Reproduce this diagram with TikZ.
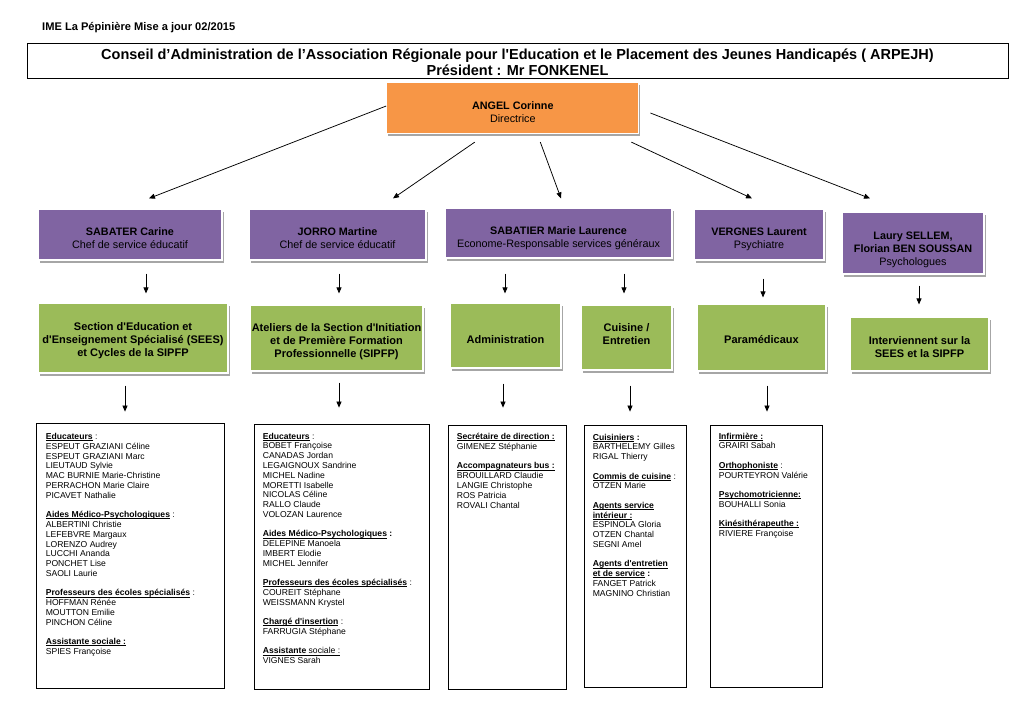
\documentclass[tikz,border=0pt]{standalone}
\usepackage{fontspec}
\setmainfont{Liberation Sans}
\usetikzlibrary{shadows,arrows.meta,calc}
\definecolor{orgfill}{HTML}{F79646}
\definecolor{purfill}{HTML}{8064A2}
\definecolor{grnfill}{HTML}{9BBB59}
\newsavebox\myulbox
\newcommand\myuln[1]{\sbox\myulbox{#1}\rlap{\rule[-1.3pt]{\wd\myulbox}{0.55pt}}\usebox\myulbox}
\newcommand\hd[1]{\myuln{\textbf{#1}}}
\newcommand\grp{\\[9.6pt]}
\newcommand\sq{\textquotesingle}
% lowers the ink of a centred block by #1 without changing the box size
\newcommand\sdn[2]{\raisebox{-#1}[\height][\depth]{\begin{tabular}{@{}c@{}}#2\end{tabular}}}
\tikzset{
  smart/.style={draw=white, line width=1.2pt, inner sep=2pt, align=center,
    general shadow={fill=black!35, shadow xshift=1.5pt, shadow yshift=-2.5pt}},
  obox/.style={smart, fill=orgfill, font={\fontsize{10.8}{13}\selectfont}},
  pbox/.style={smart, fill=purfill, font={\fontsize{10.8}{13}\selectfont}},
  gbox/.style={smart, fill=grnfill, font={\fontsize{11}{13}\selectfont\bfseries}},
  lbox/.style={draw=black, line width=0.8pt, fill=white, inner sep=0pt,
    general shadow={fill=black!45, shadow xshift=1.2pt, shadow yshift=-1.2pt}},
  ltext/.style={anchor=north west, inner sep=0pt, align=left, font={\fontsize{8.6}{9.8}\selectfont}},
  arr/.style={line width=0.75pt, -{Triangle[length=6pt,width=5pt]}},
}
\begin{document}
\begin{tikzpicture}[x=1pt,y=-1pt]
\useasboundingbox (0,0) rectangle (1024,724);
\fill[white] (0,0) rectangle (1024,724);

\node[anchor=base west, inner sep=0pt, font={\fontsize{11.1}{12}\selectfont\bfseries}] (hdr) at (42,30) {IME La Pépinière Mise a jour 02/2015};

\node[draw=black, line width=0.8pt, minimum width=981pt, minimum height=35pt, inner sep=0pt,
  font={\fontsize{14.5}{15.3}\selectfont\bfseries}] (title) at (517.5,60.5)
  {\sdn{4pt}{Conseil d’Administration de l’Association Régionale pour l\sq Education et le Placement des Jeunes Handicapés ( ARPEJH)\\Président : Mr FONKENEL}};

\node[obox, minimum width=252pt, minimum height=51pt] (angel) at (512.8,108)
  {\sdn{5.7pt}{\textbf{ANGEL Corinne}\\Directrice}};

\node[pbox, minimum width=184pt, minimum height=51pt] (sab1) at (130,234.5) {\sdn{5.3pt}{\textbf{SABATER Carine}\\Chef de service éducatif}};
\node[pbox, minimum width=177pt, minimum height=51pt] (jorro) at (337.5,234.5) {\sdn{5.3pt}{\textbf{JORRO Martine}\\Chef de service éducatif}};
\node[pbox, minimum width=227pt, minimum height=50pt] (sabm) at (558.5,233) {\sdn{5.8pt}{\textbf{SABATIER Marie Laurence}\\Econome-Responsable services généraux}};
\node[pbox, minimum width=130pt, minimum height=51pt] (verg) at (759,234.5) {\sdn{5.3pt}{\textbf{VERGNES Laurent}\\Psychiatre}};
\node[pbox, minimum width=142pt, minimum height=62pt] (laury) at (913,243) {\sdn{6.5pt}{\textbf{Laury SELLEM,}\\\textbf{Florian BEN SOUSSAN}\\Psychologues}};

\node[gbox, minimum width=190pt, minimum height=70pt] (sees) at (133,338) {\sdn{3pt}{Section d\sq Education et\\d\sq Enseignement Spécialisé (SEES)\\et Cycles de la SIPFP}};
\node[gbox, minimum width=173pt, minimum height=66pt, inner sep=0pt] (sipfp) at (336.5,338) {\sdn{3.6pt}{Ateliers de la Section d\sq Initiation\\et de Première Formation\\Professionnelle (SIPFP)}};
\node[gbox, minimum width=111pt, minimum height=65pt] (admin) at (505.5,335.5) {\sdn{5pt}{Administration}};
\node[gbox, minimum width=91pt, minimum height=65pt] (cuis) at (626.5,337.5) {\sdn{-1.9pt}{Cuisine /\\Entretien}};
\node[gbox, minimum width=129pt, minimum height=67pt] (para) at (761.5,337.5) {\sdn{3.6pt}{Paramédicaux}};
\node[gbox, minimum width=139pt, minimum height=54pt] (interv) at (919.5,344) {\sdn{4.6pt}{Interviennent sur la\\SEES et la SIPFP}};

\node[lbox, minimum width=188pt, minimum height=265pt] (l1) at (130,555.5) {};
\node[lbox, minimum width=175pt, minimum height=265pt] (l2) at (341.5,556.5) {};
\node[lbox, minimum width=118pt, minimum height=264pt] (l3) at (507,557) {};
\node[lbox, minimum width=102pt, minimum height=262pt] (l4) at (635,556) {};
\node[lbox, minimum width=112pt, minimum height=262pt] (l5) at (766,556) {};

\node[ltext] (t1) at ([xshift=10pt,yshift=-10.5pt]l1.north west) {%
\hd{Educateurs} :\\
ESPEUT GRAZIANI Céline\\
ESPEUT GRAZIANI Marc\\
LIEUTAUD Sylvie\\
MAC BURNIE Marie-Christine\\
PERRACHON Marie Claire\\
PICAVET Nathalie\grp
\hd{Aides Médico-Psychologiques} :\\
ALBERTINI Christie\\
LEFEBVRE Margaux\\
LORENZO Audrey\\
LUCCHI Ananda\\
PONCHET Lise\\
SAOLI Laurie\grp
\hd{Professeurs des écoles spécialisés} :\\
HOFFMAN Rénée\\
MOUTTON Emilie\\
PINCHON Céline\grp
\hd{Assistante sociale :}\\
SPIES Françoise};

\node[ltext] (t2) at ([xshift=9pt,yshift=-9pt]l2.north west) {%
\hd{Educateurs} :\\
BOBET Françoise\\
CANADAS Jordan\\
LEGAIGNOUX Sandrine\\
MICHEL Nadine\\
MORETTI Isabelle\\
NICOLAS Céline\\
RALLO Claude\\
VOLOZAN Laurence\grp
\hd{Aides Médico-Psychologiques} \textbf{:}\\
DELEPINE Manoela\\
IMBERT Elodie\\
MICHEL Jennifer\grp
\hd{Professeurs des écoles spécialisés} :\\
COUREIT Stéphane\\
WEISSMANN Krystel\grp
\hd{Chargé d\sq insertion} :\\
FARRUGIA Stéphane\grp
\hd{Assistante}\myuln{ sociale :}\\
VIGNES Sarah};

\node[ltext] (t3) at ([xshift=9pt,yshift=-8.5pt]l3.north west) {%
\hd{Secrétaire de direction :}\\
GIMENEZ Stéphanie\grp
\hd{Accompagnateurs bus :}\\
BROUILLARD Claudie\\
LANGIE Christophe\\
ROS Patricia\\
ROVALI Chantal};

\node[ltext] (t4) at ([xshift=9pt,yshift=-9pt]l4.north west) {%
\hd{Cuisiniers} \textbf{:}\\
BARTHELEMY Gilles\\
RIGAL Thierry\grp
\hd{Commis de cuisine} :\\
OTZEN Marie\grp
\hd{Agents service}\\
\hd{intérieur :}\\
ESPINOLA Gloria\\
OTZEN Chantal\\
SEGNI Amel\grp
\hd{Agents d\sq entretien}\\
\hd{et de service} \textbf{:}\\
FANGET Patrick\\
MAGNINO Christian};

\node[ltext] (t5) at ([xshift=9pt,yshift=-8pt]l5.north west) {%
\hd{Infirmière :}\\
GRAIRI Sabah\grp
\hd{Orthophoniste} :\\
POURTEYRON Valérie\grp
\hd{Psychomotricienne:}\\
BOUHALLI Sonia\grp
\hd{Kinésithérapeuthe :}\\
RIVIERE Françoise};

% arrows from director
\draw[arr] ([yshift=2pt]angel.west) -- ([xshift=19pt,yshift=10pt]sab1.north);
\draw[arr] ([xshift=-38pt,yshift=-8pt]angel.south) -- ([xshift=55.5pt,yshift=10pt]jorro.north);
\draw[arr] ([xshift=27.5pt,yshift=-8pt]angel.south) -- ([xshift=2.5pt,yshift=9pt]sabm.north);
\draw[arr] ([xshift=118.5pt,yshift=-8pt]angel.south) -- ([xshift=-7pt,yshift=10pt]verg.north);
\draw[arr] ([xshift=11pt,yshift=-5pt]angel.east) -- ([xshift=-43pt,yshift=13pt]laury.north);

% purple to green
\draw[arr] ([xshift=16pt,yshift=-13pt]sab1.south) -- ([xshift=13pt,yshift=9pt]sees.north);
\draw[arr] ([xshift=1.5pt,yshift=-13pt]jorro.south) -- ([xshift=2.5pt,yshift=11pt]sipfp.north);
\draw[arr] ([xshift=-53.5pt,yshift=-15pt]sabm.south) -- ([xshift=-0.5pt,yshift=9pt]admin.north);
\draw[arr] ([xshift=65.5pt,yshift=-15pt]sabm.south) -- ([xshift=-2.5pt,yshift=11pt]cuis.north);
\draw[arr] ([xshift=4pt,yshift=-18pt]verg.south) -- ([xshift=1.5pt,yshift=6pt]para.north);
\draw[arr] ([xshift=6pt,yshift=-11pt]laury.south) -- ([xshift=-0.5pt,yshift=12pt]interv.north);

% green to lists
\draw[arr] ([xshift=-8pt,yshift=-12pt]sees.south) -- ([xshift=-5pt,yshift=11pt]l1.north);
\draw[arr] ([xshift=2.5pt,yshift=-11pt]sipfp.south) -- ([xshift=-2.5pt,yshift=16pt]l2.north);
\draw[arr] ([xshift=-2.5pt,yshift=-15pt]admin.south) -- ([xshift=-4pt,yshift=17pt]l3.north);
\draw[arr] ([xshift=3.5pt,yshift=-15pt]cuis.south) -- ([xshift=-5pt,yshift=13pt]l4.north);
\draw[arr] ([xshift=5.5pt,yshift=-14pt]para.south) -- ([xshift=1pt,yshift=13pt]l5.north);
\end{tikzpicture}
\end{document}
